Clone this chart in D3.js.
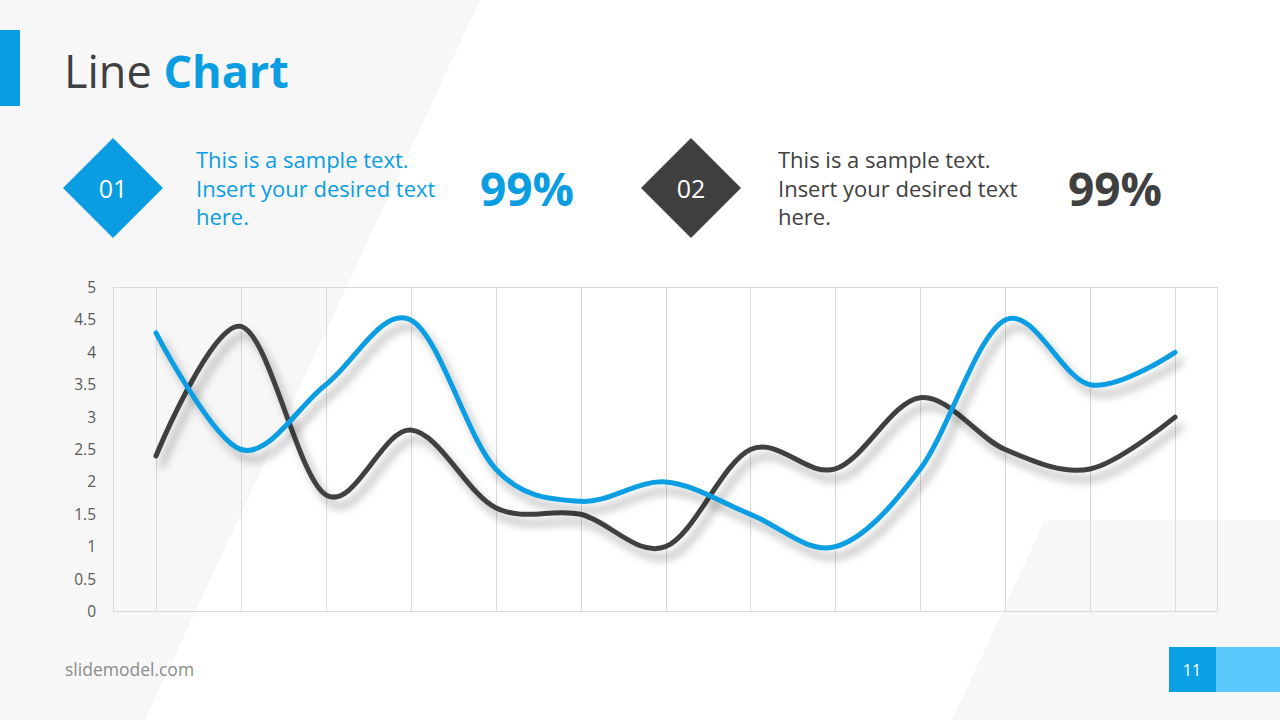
<!DOCTYPE html>
<html><head><meta charset="utf-8">
<script src="https://cdn.jsdelivr.net/npm/d3@7/dist/d3.min.js"></script>
<style>
html,body{margin:0;padding:0;background:#fff;overflow:hidden}
svg{display:block;font-family:"Open Sans","Noto Sans",sans-serif}
</style></head>
<body>
<svg id="c" width="1280" height="720"></svg>
<script>
// ---- data ----
const categories = ["1","2","3","4","5","6","7","8","9","10","11","12","13"];
const seriesBlue = [4.3, 2.5, 3.5, 4.5, 2.2, 1.7, 2.0, 1.5, 1.0, 2.2, 4.5, 3.5, 4.0];
const seriesDark = [2.4, 4.4, 1.8, 2.8, 1.6, 1.5, 1.0, 2.5, 2.2, 3.3, 2.5, 2.2, 3.0];
const yTickValues = [0, 0.5, 1, 1.5, 2, 2.5, 3, 3.5, 4, 4.5, 5];
const yTickLabels = ["0", "0.5", "1", "1.5", "2", "2.5", "3", "3.5", "4", "4.5", "5"];
const titleParts = ["Line", "Chart"];
const blurbLines = ["This is a sample text.", "Insert your desired text", "here."];
const badges = ["01", "02"];
const percents = ["99%", "99%"];
const footerText = "slidemodel.com";
const pageNumber = "11";

const BLUE = "#0a9de2", DARK = "#404040", GRID = "#d9d9d9", BG = "#f7f7f7";

const svg = d3.select("#c");

// background shapes
svg.append("rect").attr("width",1280).attr("height",720).attr("fill","#fff");
svg.append("path").attr("d","M0,0 L480,0 L145,720 L0,720 Z").attr("fill",BG);
svg.append("path").attr("d","M1045,520 L1280,520 L1280,720 L952,720 Z").attr("fill",BG);

// title bar + title
svg.append("rect").attr("x",0).attr("y",30).attr("width",20).attr("height",76).attr("fill",BLUE);
const title = svg.append("text").attr("x",64).attr("y",88).attr("font-size",45);
title.append("tspan").attr("fill",DARK).text(titleParts[0] + " ");
title.append("tspan").attr("fill",BLUE).attr("font-weight",700).text(titleParts[1]);

// info blocks
const blocks = [
  {cx:113, color:BLUE, tx:196, px:480},
  {cx:691, color:DARK, tx:778, px:1068}
];
blocks.forEach((b,i)=>{
  svg.append("path")
    .attr("d",`M${b.cx},138 L${b.cx+50},188 L${b.cx},238 L${b.cx-50},188 Z`)
    .attr("fill",b.color);
  svg.append("text").attr("x",b.cx).attr("y",198).attr("text-anchor","middle")
    .attr("fill","#fff").attr("font-size",25).text(badges[i]);
  const t = svg.append("text").attr("fill",b.color).attr("font-size",22);
  blurbLines.forEach((l,j)=>{
    t.append("tspan").attr("x",b.tx).attr("y",168 + j*28.5).text(l);
  });
  svg.append("text").attr("x",b.px).attr("y",206).attr("fill",b.color)
    .attr("font-size",46).attr("font-weight",700).text(percents[i]);
});

// chart
const x = d3.scaleBand().domain(categories).range([113.5, 1217.5]);
const y = d3.scaleLinear().domain([0,5]).range([611.5, 287.5]);
const cx = c => x(c) + x.bandwidth()/2;

const defs = svg.append("defs");
const f = defs.append("filter").attr("id","sh").attr("x","-10%").attr("y","-20%").attr("width","130%").attr("height","150%");
f.append("feDropShadow").attr("dx",6).attr("dy",9).attr("stdDeviation",4)
  .attr("flood-color","#000").attr("flood-opacity",0.3);

const g = svg.append("g");
// plot border
g.append("rect").attr("x",113.5).attr("y",287.5).attr("width",1104).attr("height",324)
  .attr("fill","none").attr("stroke",GRID).attr("stroke-width",1);
// vertical gridlines
g.selectAll("line.grid").data(categories).join("line").attr("class","grid")
  .attr("x1",d=>Math.round(cx(d))+0.5).attr("x2",d=>Math.round(cx(d))+0.5)
  .attr("y1",y(5)).attr("y2",y(0)).attr("stroke",GRID).attr("stroke-width",1);

// y axis
const yAxis = d3.axisLeft(y).tickValues(yTickValues)
  .tickFormat((d,i)=>yTickLabels[i]).tickSize(0).tickPadding(0);
const ya = svg.append("g").attr("transform","translate(96,0)").call(yAxis);
ya.select(".domain").remove();
ya.selectAll("text").attr("fill","#595959").attr("font-size",15.5)
  .attr("font-family","'Open Sans','Noto Sans',sans-serif");

// lines
const line = d3.line().x((d,i)=>cx(categories[i])).y(d=>y(d)).curve(d3.curveCardinal.tension(0));
[[seriesDark,DARK],[seriesBlue,BLUE]].forEach(([s,col])=>{
  g.append("path").datum(s).attr("d",line).attr("fill","none")
    .attr("stroke",col).attr("stroke-width",5).attr("stroke-linecap","round")
    .attr("stroke-linejoin","round").attr("filter","url(#sh)");
});

// footer
svg.append("text").attr("x",65).attr("y",676).attr("fill","#8c8c8c").attr("font-size",17.5).text(footerText);
svg.append("rect").attr("x",1169).attr("y",647).attr("width",47).attr("height",45).attr("fill","#0aa0e6");
svg.append("rect").attr("x",1216).attr("y",647).attr("width",64).attr("height",45).attr("fill","#5ac8fa");
svg.append("text").attr("x",1192).attr("y",676).attr("text-anchor","middle").attr("fill","#fff")
  .attr("font-size",16).text(pageNumber);
</script>
</body></html>
